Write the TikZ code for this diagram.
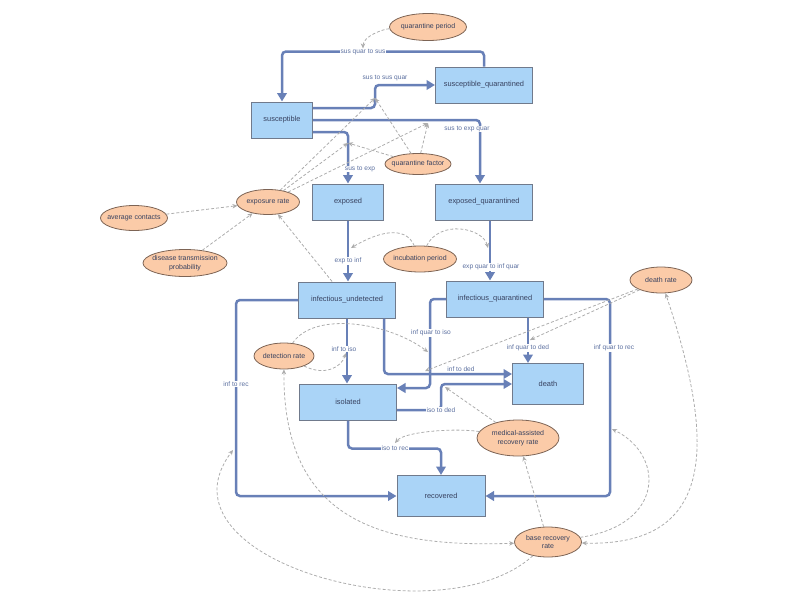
\documentclass[tikz,border=0pt]{standalone}
\usepackage{fontspec}
\setmainfont{Liberation Sans}
\usetikzlibrary{shapes.geometric,arrows.meta,positioning}
\definecolor{stockfill}{RGB}{170,212,247}
\definecolor{stockline}{RGB}{112,122,140}
\definecolor{auxfill}{RGB}{251,203,168}
\definecolor{auxline}{RGB}{125,100,85}
\definecolor{flowc}{RGB}{104,128,183}
\definecolor{linkc}{RGB}{172,172,172}
\definecolor{labelc}{RGB}{92,112,160}
\definecolor{textc}{RGB}{55,65,95}
\tikzset{stock/.style={rectangle, draw=stockline, fill=stockfill, line width=1pt,
minimum width=97pt, minimum height=36pt, inner sep=1pt, text=textc, font=\fontsize{7.4}{8}\selectfont},
aux/.style={ellipse, draw=auxline, fill=auxfill, line width=0.8pt, inner ysep=0pt, inner xsep=-4pt,
align=center, text=textc, font=\fontsize{7}{8.5}\selectfont},
flow/.style={draw=flowc, line width=2.5pt, rounded corners=4pt},
flowlabel/.style={fill=white, inner sep=0.6pt, text=labelc, font=\fontsize{6.6}{7}\selectfont},
link/.style={draw=linkc, line width=0.8pt, dash pattern=on 3pt off 2pt, -{Stealth[length=5pt,width=4.5pt]}},
linkboth/.style={link, {Stealth[length=5pt,width=4.5pt]}-{Stealth[length=5pt,width=4.5pt]}},
>={Triangle[length=8.5pt,width=9.5pt]}}

\begin{document}
\begin{tikzpicture}[x=1pt,y=-1pt]
    \useasboundingbox (0,0) rectangle (800,600);

    \node (susceptible) [stock, minimum width=61pt] at (282,120) {susceptible};
    \node (susceptible_quarantined) [stock] at (484,85) {susceptible\_quarantined};
    \node (exposed) [stock, minimum width=71pt] at (348,202) {exposed};
    \node (exposed_quarantined) [stock] at (484,202) {exposed\_quarantined};
    \node (infectious_undetected) [stock] at (347,300) {infectious\_undetected};
    \node (infectious_quarantined) [stock] at (495,299) {infectious\_quarantined};
    \node (isolated) [stock] at (348,402) {isolated};
    \node (death) [stock, minimum width=71pt, minimum height=41pt] at (548,384) {death};
    \node (recovered) [stock, minimum width=88pt, minimum height=41pt] at (441,496) {recovered};

    \node (quarantine_period) [aux, minimum width=77pt, minimum height=27pt] at (428,27) {quarantine period};
    \node (quarantine_factor) [aux, minimum width=66pt, minimum height=21pt] at (418,164) {quarantine factor};
    \node (exposure_rate) [aux, minimum width=63pt, minimum height=25pt] at (268,202) {exposure rate};
    \node (average_contacts) [aux, minimum width=67pt, minimum height=25pt] at (134,218) {average contacts};
    \node (transmission_prob) [aux, minimum width=84pt, minimum height=27pt] at (185,263) {disease transmission\\probability};
    \node (incubation_period) [aux, minimum width=73pt, minimum height=26pt] at (420,259) {incubation period};
    \node (death_rate) [aux, minimum width=62pt, minimum height=26pt] at (661,280) {death rate};
    \node (detection_rate) [aux, minimum width=60pt, minimum height=26pt] at (284,356) {detection rate};
    \node (medical_recovery_rate) [aux, minimum width=82pt, minimum height=36pt] at (518,438) {medical-assisted\\recovery rate};
    \node (base_recovery_rate) [aux, minimum width=67pt, minimum height=30pt] at (548,542) {base recovery\\rate};

    \draw [flow,->] (susceptible_quarantined.north) -- ++(0,-15) -| (susceptible.north);
    \draw [flow,->] ([yshift=12pt]susceptible.east) -- ++(62,0) |- (susceptible_quarantined.west);
    \draw [flow,->] (susceptible.east) -| ([xshift=-4pt]exposed_quarantined.north);
    \draw [flow,->] ([yshift=-12pt]susceptible.east) -| (exposed.north);
    \draw [flow,->] (exposed.south) -- (exposed.south |- infectious_undetected.north);
    \draw [flow,->] ([xshift=6pt]exposed_quarantined.south) -- ([xshift=6pt]exposed_quarantined.south |- infectious_quarantined.north);
    \draw [flow,->] (infectious_undetected.west) -- ++(-62,0) |- (recovered.west);
    \draw [flow,->] (infectious_undetected.south) -- (infectious_undetected.south |- isolated.north);
    \draw [flow,->] ([xshift=37pt]infectious_undetected.south) |- ([yshift=10pt]death.west);
    \draw [flow,->] (infectious_quarantined.west) -- ++(-16,0) |- ([yshift=14pt]isolated.east);
    \draw [flow,->] ([xshift=33pt]infectious_quarantined.south) -- ([xshift=-20pt]death.north);
    \draw [flow,->] (infectious_quarantined.east) -- ++(66,0) |- (recovered.east);
    \draw [flow,->] ([yshift=-8pt]isolated.east) -- ++(44,0) |- (death.west);
    \draw [flow,->] (isolated.south) -- ++(0,28) -| (recovered.north);

    \node (l_sqs) [flowlabel] at (363,52) {sus quar to sus};
    \node (l_ssq) [flowlabel] at (385,78) {sus to sus quar};
    \node (l_seq) [flowlabel] at (467,129) {sus to exp quar};
    \node (l_se) [flowlabel] at (360,169) {sus to exp};
    \node (l_ei) [flowlabel] at (348,261) {exp to inf};
    \node (l_eiq) [flowlabel] at (491,267) {exp quar to inf quar};
    \node (l_ir) [flowlabel] at (236,384) {inf to rec};
    \node (l_ii) [flowlabel] at (344,349) {inf to iso};
    \node (l_iqi) [flowlabel] at (431,333) {inf quar to iso};
    \node (l_id) [flowlabel] at (461,369) {inf to ded};
    \node (l_iqd) [flowlabel] at (528,348) {inf quar to ded};
    \node (l_iqr) [flowlabel] at (614,348) {inf quar to rec};
    \node (l_isd) [flowlabel] at (441,410) {iso to ded};
    \node (l_isr) [flowlabel] at (395,448) {iso to rec};

    \coordinate (v_ssq) at (375,98);
    \coordinate (v_seq) at (428,123);
    \coordinate (v_se) at (348,143);
    \coordinate (v_ei) at (351,248);
    \coordinate (v_eiq) at (488,248);
    \coordinate (v_ii) at (346,353);
    \coordinate (v_iqi) at (428,352);
    \coordinate (v_id) at (425,371);
    \coordinate (v_iqd) at (530,340);
    \coordinate (v_isd) at (445,387);
    \coordinate (v_isr) at (395,443);
    \coordinate (v_ir) at (233,450);
    \coordinate (v_iqr) at (612,429);

    \draw [link] (quarantine_period) .. controls +(-45,2) and +(0,-12) .. (l_sqs.north);

    \draw [link] (quarantine_factor) -- (v_ssq);
    \draw [link] (quarantine_factor) -- (v_seq);
    \draw [link] (quarantine_factor) -- (v_se);
    \draw [link] (exposure_rate) -- (v_ssq);
    \draw [link] (exposure_rate) -- (v_seq);
    \draw [link] (exposure_rate) -- (v_se);

    \draw [link] (average_contacts) -- (exposure_rate);
    \draw [link] (transmission_prob) -- (exposure_rate);
    \draw [link] (infectious_undetected) -- (exposure_rate);

    \draw [link] (incubation_period) .. controls +(-15,-35) and +(25,-15) .. (v_ei);
    \draw [link] (incubation_period) .. controls +(20,-40) and +(-5,-20) .. (v_eiq);

    \draw [link] (detection_rate) .. controls +(40,20) and +(-5,15) .. (v_ii);
    \draw [link] (detection_rate) .. controls +(30,-45) and +(-40,-30) .. (v_iqi);

    \draw [link] (death_rate) -- (v_id);
    \draw [link] (death_rate) -- (v_iqd);

    \draw [link] (medical_recovery_rate) -- (v_isd);
    \draw [link] (medical_recovery_rate) .. controls +(-60,-10) and +(10,-12) .. (v_isr);

    \draw [link] (base_recovery_rate) -- (medical_recovery_rate);
    \draw [linkboth] (base_recovery_rate) .. controls +(170,5) and +(54,160) .. (death_rate);
    \draw [link] (base_recovery_rate) .. controls +(117,-17) and +(53,26) .. (v_iqr);
    \draw [linkboth] (detection_rate) .. controls +(-1,164) and +(-168,6) .. (base_recovery_rate);
    \draw [link] (base_recovery_rate) .. controls +(-108,98) and +(-83,110) .. (v_ir);

\end{tikzpicture}
\end{document}
